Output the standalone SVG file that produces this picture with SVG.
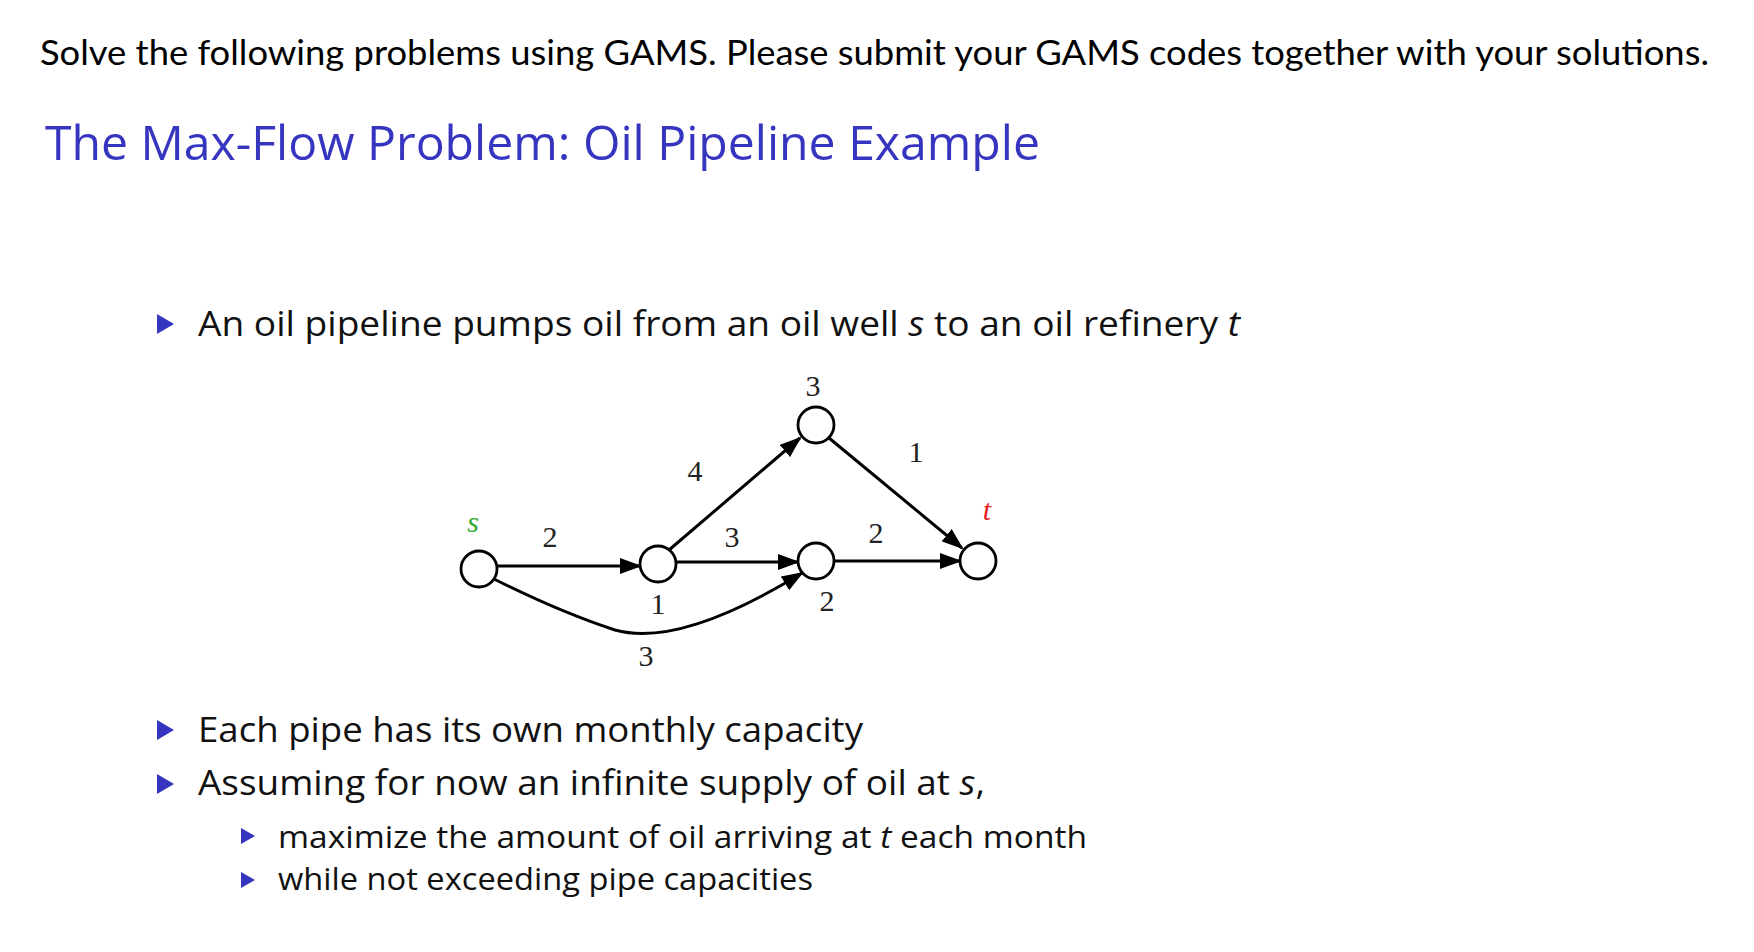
<svg xmlns="http://www.w3.org/2000/svg" width="1754" height="952" viewBox="0 0 1754 952">
<style>
.hd{font-family:"Lato","Open Sans",sans-serif;font-size:34px;fill:#000}
.ti{font-family:"Open Sans","Liberation Sans",sans-serif;font-size:48px;fill:#3535c0}
.b{font-family:"Open Sans","Liberation Sans",sans-serif;font-size:35px;fill:#111}
.sb{font-family:"Open Sans","Liberation Sans",sans-serif;font-size:31px;fill:#111}
.lb{font-family:"Liberation Serif",serif;font-size:30px;fill:#222;text-anchor:middle}
.nd{fill:#fff;stroke:#000;stroke-width:2.8}
.ed{fill:none;stroke:#000;stroke-width:3}
.tri{fill:#3535c0}
</style>
<defs>
<marker id="ah" markerUnits="userSpaceOnUse" markerWidth="22" markerHeight="16" refX="20" refY="8" orient="auto">
<path d="M0,0 L22,8 L0,16 Z" fill="#000"/>
</marker>
</defs>
<rect width="1754" height="952" fill="#fff"/>
<text class="hd" x="40" y="65" textLength="1669" lengthAdjust="spacingAndGlyphs">Solve the following problems using GAMS. Please submit your GAMS codes together with your solutions.</text>
<text class="ti" x="45" y="160" textLength="995" lengthAdjust="spacingAndGlyphs">The Max-Flow Problem:  Oil Pipeline Example</text>
<path class="tri" d="M157,314 L174,324 L157,334 Z"/>
<text class="b" x="198" y="336" textLength="1042" lengthAdjust="spacingAndGlyphs">An oil pipeline pumps oil from an oil well <tspan font-style="italic">s</tspan> to an oil refinery <tspan font-style="italic">t</tspan></text>
<g id="connectors">
<line class="ed" x1="496" y1="566" x2="640" y2="566" marker-end="url(#ah)"/>
<line class="ed" x1="669" y1="550" x2="800" y2="438" marker-end="url(#ah)"/>
<line class="ed" x1="829" y1="438" x2="962" y2="548" marker-end="url(#ah)"/>
<line class="ed" x1="676" y1="562" x2="798" y2="562" marker-end="url(#ah)"/>
<line class="ed" x1="834" y1="561" x2="960" y2="561" marker-end="url(#ah)"/>
<path class="ed" d="M494,579 Q560,612 615,630 Q680,648 802,573" marker-end="url(#ah)"/>
</g>
<g id="node-s"><circle class="nd" cx="479" cy="569" r="18"/><text class="lb" x="473" y="532" style="fill:#33aa33;font-style:italic" font-size="26">s</text></g>
<g id="node-1"><circle class="nd" cx="658" cy="564" r="18"/><text class="lb" x="658" y="614">1</text></g>
<g id="node-3"><circle class="nd" cx="816" cy="425" r="18"/><text class="lb" x="813" y="396">3</text></g>
<g id="node-2"><circle class="nd" cx="816" cy="561" r="18"/><text class="lb" x="827" y="611">2</text></g>
<g id="node-t"><circle class="nd" cx="978" cy="561" r="18"/><text class="lb" x="987" y="520" style="fill:#e02020;font-style:italic" font-size="26">t</text></g>
<g id="edge-labels">
<text class="lb" x="550" y="547">2</text>
<text class="lb" x="695" y="481">4</text>
<text class="lb" x="732" y="547">3</text>
<text class="lb" x="916" y="462">1</text>
<text class="lb" x="876" y="543">2</text>
<text class="lb" x="646" y="666">3</text>
</g>
<path class="tri" d="M157,720 L174,730 L157,740 Z"/>
<text class="b" x="198" y="742" textLength="665" lengthAdjust="spacingAndGlyphs">Each pipe has its own monthly capacity</text>
<path class="tri" d="M157,774 L174,784 L157,794 Z"/>
<text class="b" x="198" y="795" textLength="787" lengthAdjust="spacingAndGlyphs">Assuming for now an infinite supply of oil at <tspan font-style="italic">s</tspan>,</text>
<path class="tri" d="M241,828 L255,836 L241,844 Z"/>
<text class="sb" x="278" y="848" textLength="809" lengthAdjust="spacingAndGlyphs">maximize the amount of oil arriving at <tspan font-style="italic">t</tspan> each month</text>
<path class="tri" d="M241,872 L255,880 L241,888 Z"/>
<text class="sb" x="278" y="890" textLength="535" lengthAdjust="spacingAndGlyphs">while not exceeding pipe capacities</text>
</svg>
